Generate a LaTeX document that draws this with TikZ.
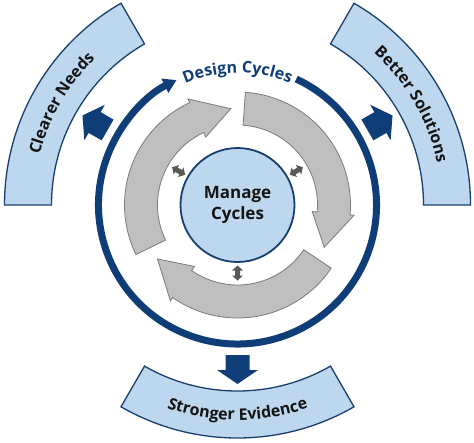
\documentclass[tikz,border=0pt]{standalone}
\usepackage{fontspec}
\setmainfont{Open Sans}
\usetikzlibrary{arrows.meta,decorations.text}
\definecolor{ringblue}{HTML}{0F3D77}
\definecolor{lightblue}{HTML}{BDD7EE}
\definecolor{bandedge}{HTML}{173F6E}
\definecolor{grayfill}{HTML}{BFBFBF}
\definecolor{grayedge}{HTML}{7A7A7A}
\definecolor{dgray}{HTML}{595959}
\definecolor{txt}{HTML}{141414}
\begin{document}
\begin{tikzpicture}[x=1pt,y=1pt,
  band/.style={fill=lightblue,draw=bandedge,line width=1.3pt},
  cyclearrow/.style={fill=grayfill,draw=grayedge,line width=0.8pt},
  bigarrow/.style={fill=ringblue},
  smallarrow/.style={fill=dgray},
  ring/.style={draw=ringblue,line width=7pt},
  managenode/.style={circle,draw=bandedge,line width=1.8pt,fill=lightblue,minimum size=114pt,inner sep=0pt,align=center,text=txt,font=\fontsize{17}{21}\selectfont\bfseries}
]
\useasboundingbox (0,0) rectangle (474,-442);
\begin{scope}[shift={(237.5,-205)}]
  \coordinate (C) at (0,0);
  % outer bands
  \foreach \a in {0,120,240}
    \draw[band] (\a:186) arc[start angle=\a,end angle=\a+60,radius=186]
      -- ({\a+60}:233) arc[start angle=\a+60,end angle=\a,radius=233] -- cycle;
  % band labels
  \path[decorate,decoration={text along path,text align=center,text format delimiters={|}{|},
    text={|\fontsize{16}{16}\selectfont\bfseries\color{txt}|Clearer Needs}}]
    (180:204) arc[start angle=180,end angle=120,radius=204];
  \path[decorate,decoration={text along path,text align=center,text format delimiters={|}{|},
    text={|\fontsize{16}{16}\selectfont\bfseries\color{txt}|Better Solutions}}]
    (60:204) arc[start angle=60,end angle=0,radius=204];
  \path[decorate,decoration={text along path,text align=center,text format delimiters={|}{|},
    text={|\fontsize{16}{16}\selectfont\bfseries\color{txt}|Stronger Evidence}}]
    (240:215) arc[start angle=240,end angle=300,radius=215];
  % big outward arrows
  \foreach \a in {30,150,270}
    \fill[bigarrow,rotate=\a] (150,-12) -- (165,-12) -- (165,-20.5) -- (179,0)
      -- (165,20.5) -- (165,12) -- (150,12) -- cycle;
  % ring with arrow
  \draw[ring,-{Triangle[length=13pt,width=15pt]}] (65:139) arc[start angle=65,end angle=-244,radius=139];
  \path[decorate,decoration={text along path,text align=center,text format delimiters={|}{|},
    text={|\fontsize{16}{16}\selectfont\bfseries\color{ringblue}|Design Cycles}}]
    (120:132) arc[start angle=120,end angle=60,radius=132];
  % gray cycle arrows
  \foreach \t in {86,-34,206}
    \draw[cyclearrow] (\t:113) arc[start angle=\t,end angle=\t-91,radius=113]
      -- ({\t-91}:117) -- ({\t-112}:96.5) -- ({\t-91}:75) -- ({\t-91}:80)
      arc[start angle=\t-91,end angle=\t,radius=80] -- cycle;
  % small double arrows
  \foreach \a in {30,150,270}
    \fill[smallarrow,rotate=\a] (60.5,0) -- (65.5,5.5) -- (65.5,2.5) -- (70.5,2.5) -- (70.5,5.5)
      -- (75.5,0) -- (70.5,-5.5) -- (70.5,-2.5) -- (65.5,-2.5) -- (65.5,-5.5) -- cycle;
  % centre
  \node[managenode] (manage) at (C) {Manage\\Cycles};
\end{scope}
\end{tikzpicture}
\end{document}
